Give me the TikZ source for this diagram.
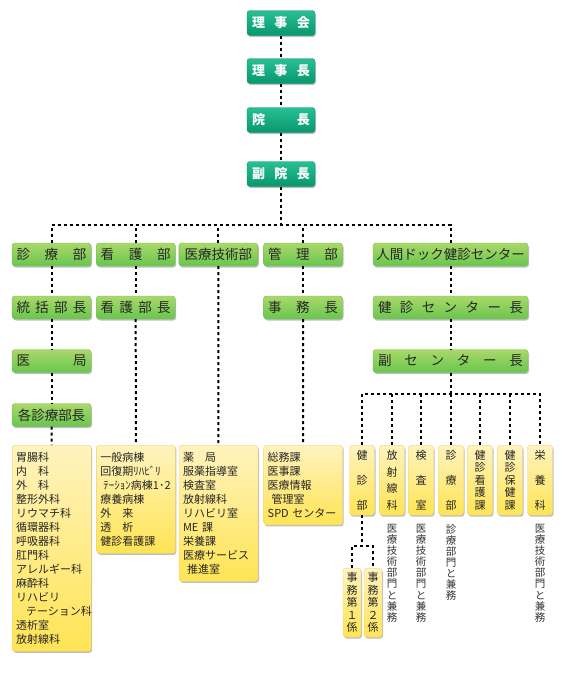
\documentclass[tikz,border=0pt]{standalone}
\usepackage{fontspec}
\setmainfont{Noto Sans CJK JP}
\usetikzlibrary{shadows}

\definecolor{tealtop}{RGB}{40,192,148}
\definecolor{tealbot}{RGB}{8,150,110}
\definecolor{greentop}{RGB}{170,216,106}
\definecolor{greenbot}{RGB}{104,198,78}
\definecolor{greenedge}{RGB}{124,188,88}
\definecolor{yeltop}{RGB}{255,243,190}
\definecolor{yelbot}{RGB}{255,228,84}
\definecolor{yeledge}{RGB}{234,210,124}

\newcommand\spreadtxt[2]{\makebox[#1][s]{#2}}

\tikzset{
  boxbase/.style={rounded corners=3pt, inner sep=0pt,
    drop shadow={shadow xshift=1pt, shadow yshift=-1.5pt, opacity=0.25, fill=black}},
  topbox/.style={boxbase, top color=tealtop, bottom color=tealbot, draw=tealbot,
    minimum width=68pt, minimum height=25pt, text=white,
    font=\fontsize{13}{13}\selectfont\bfseries},
  deptbox/.style={boxbase, top color=greentop, bottom color=greenbot, draw=greenedge,
    minimum width=79pt, minimum height=23pt, text=black!85,
    font=\fontsize{13.5}{14}\selectfont},
  listbox/.style={boxbase, top color=yeltop, bottom color=yelbot, draw=yeledge,
    anchor=north west, text width=71pt, inner xsep=4pt, inner ysep=7pt,
    align=left, text=black!85, font=\fontsize{11}{14}\selectfont},
  tallbox/.style={boxbase, top color=yeltop, bottom color=yelbot, draw=yeledge,
    anchor=north, minimum width=25pt, minimum height=70pt, align=center,
    text=black!85, font=\fontsize{11}{12.5}\selectfont},
  subbox/.style={tallbox, minimum width=18pt, minimum height=69pt},
  notetext/.style={anchor=north, align=center, inner sep=0pt,
    font=\fontsize{10.5}{11.1}\selectfont, text=black!80},
  link/.style={line width=2pt, dash pattern=on 3pt off 3pt, black}
}

\begin{document}
\begin{tikzpicture}[x=1pt, y=-1pt]
  \fill[white] (0,0) rectangle (562,673);
  \useasboundingbox (0,0) rectangle (562,673);
  % board and directors
  \node[topbox] (council)  at (281,23)  {\spreadtxt{58pt}{理 事 会}};
  \node[topbox] (chair)    at (281,71)  {\spreadtxt{58pt}{理 事 長}};
  \node[topbox] (director) at (281,120) {\spreadtxt{58pt}{院 長}};
  \node[topbox] (vicedir)  at (281,174) {\spreadtxt{58pt}{副 院 長}};
  % departments
  \node[deptbox] (clinic)  at (51.5,254.5)  {\spreadtxt{70pt}{診 療 部}};
  \node[deptbox] (nursing) at (135.7,254.5) {\spreadtxt{70pt}{看 護 部}};
  \node[deptbox] (medtech) at (218.3,254.5) {医療技術部};
  \node[deptbox] (admin)   at (303,254.5)   {\spreadtxt{70pt}{管 理 部}};
  \node[deptbox, minimum width=155pt] (dock) at (450.5,254.5) {人間ドック健診センター};
  % heads
  \node[deptbox] (gm)         at (51.5,307.5)  {\spreadtxt{70pt}{統 括 部 長}};
  \node[deptbox] (nursehead)  at (135.7,307.5) {\spreadtxt{70pt}{看 護 部 長}};
  \node[deptbox] (officehead) at (303,307.5)   {\spreadtxt{70pt}{事 務 長}};
  \node[deptbox, minimum width=155pt] (dockhead) at (450.5,307.5) {\spreadtxt{145pt}{健 診 セ ン タ ー 長}};
  \node[deptbox] (medoffice)  at (51.5,361)    {\spreadtxt{70pt}{医 局}};
  \node[deptbox, minimum width=155pt] (dockvice) at (450.5,361) {\spreadtxt{145pt}{副 セ ン タ ー 長}};
  \node[deptbox] (chiefs)     at (51.5,415)    {各診療部長};
  % section lists
  \node[listbox] (list1) at (12,445) {胃腸科\\内　科\\外　科\\整形外科\\リウマチ科\\循環器科\\呼吸器科\\肛門科\\アレルギー科\\麻酔科\\リハビリ\\\hspace*{10pt}テーション科\\透析室\\放射線科};
  \node[listbox] (list2) at (96.2,445) {一般病棟\\回復期ﾘﾊﾋﾞﾘ\\\hspace*{3pt}ﾃｰｼｮﾝ病棟1･2\\療養病棟\\外　来\\透　析\\健診看護課};
  \node[listbox] (list3) at (178.8,445) {薬　局\\服薬指導室\\検査室\\放射線科\\リハビリ室\\ME 課\\栄養課\\医療サービス\\\hspace*{4pt}推進室};
  \node[listbox] (list4) at (263.5,445) {総務課\\医事課\\医療情報\\\hspace*{4pt}管理室\\SPD センター};
  % health check sections
  \node[tallbox] (kenshin) at (362,445) {健\\[12.5pt]診\\[12.5pt]部};
  \node[tallbox] (xray)    at (392,445) {放\\[4.2pt]射\\[4.2pt]線\\[4.2pt]科};
  \node[tallbox] (lab)     at (421,445) {検\\[12.5pt]査\\[12.5pt]室};
  \node[tallbox] (exam)    at (451,445) {診\\[12.5pt]療\\[12.5pt]部};
  \node[tallbox] (kango)   at (480,445) {健\\診\\看\\護\\課};
  \node[tallbox] (hoken)   at (510,445) {健\\診\\保\\健\\課};
  \node[tallbox] (eiyo)    at (540,445) {栄\\[12.5pt]養\\[12.5pt]科};
  \node[subbox] (jimu1) at (352,568) {事\\務\\第\\１\\係};
  \node[subbox] (jimu2) at (373,568) {事\\務\\第\\２\\係};
  % notes
  \node[notetext] (note1) at (392,524) {医\\療\\技\\術\\部\\門\\と\\兼\\務};
  \node[notetext] (note2) at (421,524) {医\\療\\技\\術\\部\\門\\と\\兼\\務};
  \node[notetext] (note3) at (451,524) {診\\療\\部\\門\\と\\兼\\務};
  \node[notetext] (note4) at (540,524) {医\\療\\技\\術\\部\\門\\と\\兼\\務};
  % connectors
  \coordinate (bus)  at (0,225);
  \coordinate (rbus) at (0,394);
  \coordinate (sbus) at (0,546);
  \draw[link] (council) -- (chair);
  \draw[link] (chair) -- (director);
  \draw[link] (director) -- (vicedir);
  \draw[link] (vicedir.south) -- (vicedir |- bus);
  \draw[link] (clinic.north) |- (bus -| dock) -- (dock.north);
  \draw[link] (nursing.north) -- (nursing.north |- bus);
  \draw[link] (medtech.north) -- (medtech.north |- bus);
  \draw[link] (admin.north) -- (admin.north |- bus);
  \draw[link] (clinic) -- (gm);
  \draw[link] (gm) -- (medoffice);
  \draw[link] (medoffice) -- (chiefs);
  \draw[link] (chiefs) -- (list1);
  \draw[link] (nursing) -- (nursehead);
  \draw[link] (nursehead) -- (list2);
  \draw[link] (medtech) -- (list3);
  \draw[link] (admin) -- (officehead);
  \draw[link] (officehead) -- (list4);
  \draw[link] (dock) -- (dockhead);
  \draw[link] (dockhead) -- (dockvice);
  \draw[link] (dockvice.south) -- (dockvice |- rbus);
  \draw[link] (kenshin.north) |- (rbus -| eiyo) -- (eiyo.north);
  \draw[link] (xray.north) -- (xray.north |- rbus);
  \draw[link] (lab.north) -- (lab.north |- rbus);
  \draw[link] (exam.north) -- (exam.north |- rbus);
  \draw[link] (kango.north) -- (kango.north |- rbus);
  \draw[link] (hoken.north) -- (hoken.north |- rbus);
  \draw[link] (kenshin.south) -- (kenshin.south |- sbus);
  \draw[link] (jimu1.north) |- (sbus -| jimu2) -- (jimu2.north);
\end{tikzpicture}
\end{document}
